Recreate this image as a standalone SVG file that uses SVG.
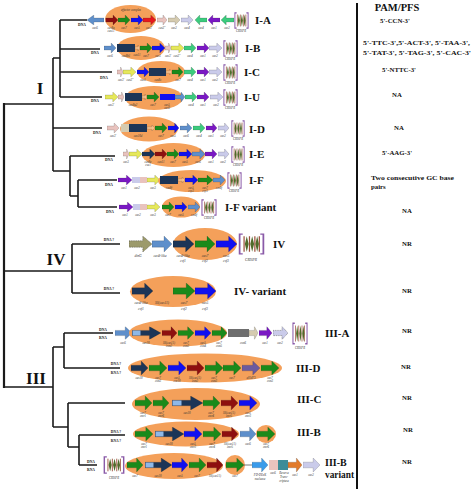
<svg xmlns="http://www.w3.org/2000/svg" xmlns:xlink="http://www.w3.org/1999/xlink" width="474" height="489" viewBox="0 0 474 489">
<style>
.t{font-family:"Liberation Serif","Times New Roman",serif;font-weight:bold;fill:#111}
.lab{font-size:11px}
.rom{font-size:17px}
.pam{font-size:6.8px}
.dna{font-size:3.6px;text-anchor:middle}
.gl{font-family:"Liberation Serif",serif;font-size:3px;font-style:italic;text-anchor:middle;fill:#333}
.br{fill:none;stroke:#1a1a1a;stroke-width:1.6}
.el{fill:#F4A05A}
.sb{fill:#5E8FCB}.nv{fill:#1C3557}.dr{fill:#8E0F0F}.gr{fill:#1A8A1A}.bl{fill:#1010F0}.rd{fill:#E5191E}
.pk{fill:#E9C3BE}.bg{fill:#D5CBB0}.lv{fill:#CACBEA}.mt{fill:#3BCB7D}.pu{fill:#7A18C4}.ye{fill:#E6E85A}
.ol{fill:#9C9A6B}.gy{fill:#6E6E6E}.or{fill:#E27A2A}.lb{fill:#3A9BEA}.tl{fill:#3E8C98}.sl{fill:#6C5A9E}.lo{fill:#F7C08A}
.lbb{fill:#8EB8E8}
</style>
<defs>
<symbol id="ar" viewBox="0 0 10 10" preserveAspectRatio="none"><path d="M0,3 H6 V0 L10,5 L6,10 V7 H0 Z" stroke="#222" stroke-opacity=".45" stroke-width=".4" vector-effect="non-scaling-stroke"/></symbol>
<symbol id="al" viewBox="0 0 10 10" preserveAspectRatio="none"><path d="M10,3 H4 V0 L0,5 L4,10 V7 H10 Z" stroke="#222" stroke-opacity=".45" stroke-width=".4" vector-effect="non-scaling-stroke"/></symbol>
<symbol id="ad" viewBox="0 0 10 10" preserveAspectRatio="none"><path d="M0,3 H6 V0 L10,5 L6,10 V7 H0 Z" stroke="#444" stroke-width=".5" stroke-dasharray="1 .8" vector-effect="non-scaling-stroke"/></symbol>
<symbol id="cr" viewBox="0 0 20 20" preserveAspectRatio="none">
<path d="M3.5,1 H1.2 V19 H3.5 M16.5,1 H18.8 V19 H16.5" fill="none" stroke="#8A5AA8" stroke-width="1.3"/>
<path d="M4.5,3 V17 M8.5,3 V17 M12.5,3 V17 M15.8,3 V17" stroke="#9B4E3A" stroke-width=".9"/>
<path d="M6.5,3 L7.9,10 L6.5,17 L5.1,10 Z M10.5,3 L11.9,10 L10.5,17 L9.1,10 Z M14.2,3 L15.5,10 L14.2,17 L12.9,10 Z" fill="#4F6B2A"/>
</symbol>
</defs>

<g id="tree" class="br">
<path d="M4,103 V388" stroke-width="2.2"/>
<path d="M4,104 H53 M4,271 H72 M4,387 H53"/>
<path d="M53,58 V171 M53,58 H60 M60,20 V97 M60,20 H87 M60,49 H100 M60,72 H112 M60,97 H102"/>
<path d="M53,128 H102 M53,171 H70 M70,156 V196 M70,156 H115 M70,196 H78 M78,180 V207 M78,180 H117 M78,207 H117"/>
<path d="M72,244 V293 M72,244 H120 M72,293 H120"/>
<path d="M53,347 V427 M53,347 H64 M64,333 V368 M64,333 H113 M64,368 H120 M53,427 H68 M68,403 V447 M68,403 H125 M68,447 H79 M79,435 V465 M79,435 H125 M79,465 H97"/>
</g>
<g id="clades" class="t rom">
<text x="40" y="94" text-anchor="middle">I</text>
<text x="56" y="265" text-anchor="middle">IV</text>
<text x="36" y="384" text-anchor="middle">III</text>
</g>

<g id="row-IA">
<text class="t dna" x="82" y="26">DNA</text>
<use href="#al" class="sb" x="87" y="15" width="17" height="10"/>
<ellipse class="el" cx="130.5" cy="19" rx="25.5" ry="14"/>
<text class="gl" x="131" y="11">effector complex</text>
<use href="#ar" class="dr" x="105.5" y="15" width="12.5" height="10"/>
<use href="#ar" class="gr" x="118" y="15" width="12" height="10"/>
<use href="#ar" class="bl" x="131" y="15" width="12" height="10"/>
<use href="#ar" class="rd" x="143" y="15" width="13" height="10"/>
<use href="#ar" class="pk" x="157" y="15" width="10" height="10"/>
<use href="#ar" class="bg" x="168" y="15" width="12" height="10"/>
<use href="#ar" class="lv" x="181" y="15" width="12" height="10"/>
<use href="#al" class="mt" x="195" y="15" width="12" height="10"/>
<use href="#al" class="pu" x="208" y="15" width="12" height="10"/>
<use href="#al" class="mt" x="221" y="15" width="13" height="10"/>
<use href="#cr" x="234" y="12" width="15" height="17"/>
<g class="gl"><text x="95" y="29">cas6</text><text x="111" y="29">cas8a</text><text x="111" y="32">cas11</text><text x="124" y="29">cas7</text><text x="137" y="29">cas5</text><text x="149" y="29">cas3'</text><text x="162" y="29">cas3''</text><text x="174" y="29">cas2</text><text x="187" y="29">cas4</text><text x="201" y="29">cas4</text><text x="214" y="29">cas1</text><text x="227" y="29">cas2</text><text x="241" y="32">CRISPR</text></g>
<text class="t lab" x="255" y="24">I-A</text>
</g>

<g id="row-IB">
<text class="t dna" x="95" y="54">DNA</text>
<use href="#ar" class="sb" x="104" y="43" width="12" height="10"/>
<ellipse class="el" cx="141" cy="48" rx="24" ry="12"/>
<rect class="nv" x="117" y="44" width="18" height="8"/>
<use href="#ar" class="lo" x="135" y="45" width="5" height="6"/>
<use href="#ar" class="gr" x="140" y="43" width="12" height="10"/>
<use href="#ar" class="bl" x="152" y="43" width="13" height="10"/>
<use href="#ar" class="pk" x="165" y="43" width="6" height="10"/>
<use href="#ar" class="ye" x="171" y="43" width="13" height="10"/>
<use href="#ar" class="mt" x="184" y="43" width="12" height="10"/>
<use href="#ar" class="pu" x="197" y="43" width="12" height="10"/>
<use href="#ar" class="lv" x="209" y="43" width="13" height="10"/>
<use href="#cr" x="223" y="40" width="15" height="17"/>
<g class="gl"><text x="110" y="57">cas6</text><text x="126" y="57">cas8b1</text><text x="137" y="56">cas11</text><text x="146" y="57">cas7</text><text x="158" y="57">cas5</text><text x="168" y="57">cas3'</text><text x="177" y="57">cas3''</text><text x="190" y="57">cas4</text><text x="203" y="57">cas1</text><text x="215" y="57">cas2</text><text x="230" y="60">CRISPR</text></g>
<text class="t lab" x="245" y="52">I-B</text>
</g>

<g id="row-IC">
<text class="t dna" x="104" y="79">DNA</text>
<ellipse class="el" cx="161" cy="72" rx="24" ry="11"/>
<use href="#ar" class="pk" x="117" y="67" width="6" height="10"/>
<use href="#ar" class="ye" x="123" y="67" width="13" height="10"/>
<use href="#ar" class="bl" x="137" y="67" width="12" height="10"/>
<rect class="nv" x="149" y="68" width="17" height="8"/>
<use href="#ar" class="lo" x="166" y="69" width="6" height="6"/>
<use href="#ar" class="gr" x="172" y="67" width="11" height="10"/>
<use href="#ar" class="mt" x="184" y="67" width="12" height="10"/>
<use href="#ar" class="pu" x="197" y="67" width="12" height="10"/>
<use href="#ar" class="lv" x="209" y="67" width="13" height="10"/>
<use href="#cr" x="223" y="64" width="15" height="17"/>
<g class="gl"><text x="121" y="81">cas3'</text><text x="130" y="81">cas3''</text><text x="143" y="81">cas5</text><text x="158" y="81">cas8c</text><text x="178" y="81">cas7</text><text x="190" y="81">cas4</text><text x="203" y="81">cas1</text><text x="215" y="81">cas2</text><text x="230" y="84">CRISPR</text></g>
<text class="t lab" x="244" y="76">I-C</text>
</g>

<g id="row-IU">
<text class="t dna" x="95" y="102">DNA</text>
<ellipse class="el" cx="154" cy="98" rx="29" ry="12"/>
<use href="#ar" class="ye" x="105" y="92" width="13" height="10"/>
<use href="#ar" class="pk" x="118" y="92" width="6" height="10"/>
<rect class="nv" x="125" y="93" width="17" height="8"/>
<use href="#ar" class="lo" x="142" y="94" width="5" height="6"/>
<use href="#ar" class="gr" x="147" y="92" width="12" height="10"/>
<rect class="bl" x="160" y="94" width="15" height="6"/>
<use href="#ar" class="sb" x="175" y="92" width="10" height="10"/>
<use href="#ar" class="mt" x="185" y="92" width="12" height="10"/>
<use href="#ar" class="pu" x="197" y="92" width="12" height="10"/>
<use href="#ar" class="lv" x="210" y="92" width="13" height="10"/>
<use href="#cr" x="223" y="89" width="15" height="17"/>
<g class="gl"><text x="111" y="106">cas3'</text><text x="133" y="106">cas8u2</text><text x="153" y="106">cas7</text><text x="167" y="106">cas5</text><text x="167" y="109">cas6</text><text x="191" y="106">cas4</text><text x="203" y="106">cas1</text><text x="216" y="106">cas2</text><text x="230" y="109">CRISPR</text></g>
<text class="t lab" x="244" y="101">I-U</text>
</g>

<g id="row-ID">
<text class="t dna" x="97" y="134">DNA</text>
<use href="#ar" class="pk" x="107" y="123" width="12" height="10"/>
<ellipse class="el" cx="149" cy="129" rx="29" ry="12.5"/>
<rect class="bg" x="121" y="124" width="8" height="8"/>
<rect class="nv" x="129" y="124" width="18" height="8"/>
<use href="#ar" class="lo" x="147" y="125" width="8" height="6"/>
<use href="#ar" class="gr" x="155" y="123" width="12" height="10"/>
<use href="#ar" class="bl" x="168" y="123" width="11" height="10"/>
<use href="#ar" class="sb" x="180" y="123" width="12" height="10"/>
<use href="#ar" class="mt" x="193" y="123" width="12" height="10"/>
<use href="#ar" class="pu" x="206" y="123" width="11" height="10"/>
<use href="#ar" class="lv" x="218" y="123" width="11" height="10"/>
<use href="#cr" x="231" y="120" width="14" height="17"/>
<g class="gl"><text x="113" y="137">cas3'</text><text x="138" y="137">cas10d</text><text x="161" y="137">cas7</text><text x="173" y="137">cas5</text><text x="186" y="137">cas6</text><text x="199" y="137">cas4</text><text x="211" y="137">cas1</text><text x="223" y="137">cas2</text><text x="238" y="140">CRISPR</text></g>
<text class="t lab" x="249" y="133">I-D</text>
</g>

<g id="row-IE">
<text class="t dna" x="109" y="161">DNA</text>
<use href="#ar" class="pk" x="123" y="149" width="6" height="10"/>
<use href="#ar" class="ye" x="129" y="149" width="13" height="10"/>
<ellipse class="el" cx="173.5" cy="155" rx="31.5" ry="12"/>
<use href="#ar" class="nv" x="142" y="149" width="13" height="10"/>
<use href="#ar" class="dr" x="155" y="149" width="12" height="10"/>
<use href="#ar" class="gr" x="167" y="149" width="12" height="10"/>
<use href="#ar" class="bl" x="179" y="149" width="13" height="10"/>
<use href="#ar" class="sb" x="192" y="149" width="13" height="10"/>
<use href="#ar" class="pu" x="205" y="149" width="12" height="10"/>
<use href="#ar" class="lv" x="218" y="149" width="11" height="10"/>
<use href="#cr" x="231" y="146" width="14" height="17"/>
<g class="gl"><text x="126" y="163">cas3</text><text x="148" y="163">cas8e</text><text x="148" y="166">cse1</text><text x="161" y="163">cas11</text><text x="173" y="163">cas7</text><text x="185" y="163">cas5</text><text x="198" y="163">cas6</text><text x="211" y="163">cas1</text><text x="223" y="163">cas2</text><text x="238" y="166">CRISPR</text></g>
<text class="t lab" x="249" y="158">I-E</text>
</g>

<g id="row-IF">
<text class="t dna" x="109" y="186">DNA</text>
<use href="#ar" class="pu" x="118" y="175" width="14" height="10"/>
<rect class="lv" x="132" y="177" width="8" height="6"/>
<rect class="pk" x="140" y="177" width="7" height="6"/>
<use href="#ar" class="ye" x="147" y="175" width="13" height="10"/>
<ellipse class="el" cx="192" cy="181" rx="34" ry="11"/>
<rect class="nv" x="160" y="176" width="18" height="8"/>
<use href="#ar" class="lo" x="178" y="177" width="7" height="6"/>
<use href="#ar" class="bl" x="185" y="175" width="13" height="10"/>
<use href="#ar" class="gr" x="198" y="175" width="15" height="10"/>
<use href="#ar" class="sb" x="213" y="175" width="12" height="10"/>
<use href="#cr" x="227" y="172" width="15" height="17"/>
<g class="gl"><text x="124" y="189">cas1</text><text x="137" y="189">cas2</text><text x="153" y="189">cas3</text><text x="169" y="189">cas8f</text><text x="191" y="189">cas5</text><text x="191" y="192">csy2</text><text x="205" y="189">cas7</text><text x="205" y="192">csy3</text><text x="219" y="189">cas6f</text><text x="234" y="192">CRISPR</text></g>
<text class="t lab" x="249" y="184">I-F</text>
</g>

<g id="row-IFv">
<text class="t dna" x="110" y="213">DNA</text>
<use href="#ar" class="pu" x="119" y="202" width="14" height="10"/>
<rect class="lv" x="133" y="204" width="7" height="6"/>
<rect class="pk" x="140" y="204" width="7" height="6"/>
<use href="#ar" class="ye" x="147" y="202" width="13" height="10"/>
<ellipse class="el" cx="181" cy="207" rx="19" ry="10.5"/>
<use href="#ar" class="gr" x="162" y="202" width="12" height="10"/>
<use href="#ar" class="bl" x="175" y="202" width="12" height="10"/>
<use href="#ar" class="sb" x="188" y="202" width="12" height="10"/>
<use href="#cr" x="201" y="199" width="16" height="17"/>
<g class="gl"><text x="125" y="216">cas1</text><text x="138" y="216">cas2</text><text x="153" y="216">cas3</text><text x="168" y="216">cas7</text><text x="181" y="216">cas5</text><text x="194" y="216">cas6f</text><text x="209" y="219">CRISPR</text></g>
<text class="t lab" x="225" y="211">I-F variant</text>
</g>

<g id="row-IV">
<text class="t dna" x="109" y="241">DNA ?</text>
<use href="#ad" class="ol" x="129" y="236" width="23" height="16"/>
<use href="#ar" class="sb" x="152" y="236" width="20" height="16"/>
<ellipse class="el" cx="205" cy="244" rx="32" ry="16"/>
<use href="#ar" class="nv" x="173" y="236" width="21" height="16"/>
<use href="#ar" class="gr" x="195" y="236" width="20" height="16"/>
<use href="#ar" class="bl" x="216" y="236" width="21" height="16"/>
<use href="#cr" x="238" y="233" width="27" height="22"/>
<g class="gl" style="font-size:3.6px"><text x="138" y="257">dinG</text><text x="160" y="257">cas8-like</text><text x="183" y="257">cas8-like</text><text x="183" y="262">csf1</text><text x="205" y="257">cas7</text><text x="205" y="262">csf2</text><text x="226" y="257">cas5</text><text x="226" y="262">csf3</text><text x="251" y="261">CRISPR</text></g>
<text class="t lab" x="273" y="248">IV</text>
</g>

<g id="row-IVv">
<text class="t dna" x="109" y="290">DNA ?</text>
<ellipse class="el" cx="173" cy="291.5" rx="43" ry="15.5"/>
<use href="#ar" class="nv" x="132" y="283" width="21" height="16"/>
<use href="#ar" class="gr" x="173" y="283" width="22" height="16"/>
<use href="#ar" class="bl" x="195" y="283" width="21" height="16"/>
<g class="gl" style="font-size:3.6px"><text x="141" y="304">cas8-like</text><text x="141" y="310">csf1</text><text x="162" y="304">SS(cas11)</text><text x="184" y="304">cas7</text><text x="184" y="310">csf2</text><text x="205" y="304">cas5</text><text x="205" y="310">csf3</text></g>
<text class="t lab" x="234" y="295">IV- variant</text>
</g>

<g id="row-IIIA">
<text class="t dna" x="103" y="331">DNA</text>
<text class="t dna" x="103" y="339">RNA</text>
<use href="#ar" class="sb" x="115" y="326.5" width="17" height="13"/>
<ellipse class="el" cx="178" cy="333" rx="49" ry="13.5"/>
<use href="#ar" class="nv" x="132" y="326.5" width="29" height="13"/>
<rect class="lbb" x="132.5" y="330.5" width="8" height="5"/>
<use href="#ar" class="dr" x="162" y="326.5" width="15" height="13"/>
<use href="#ar" class="gr" x="178" y="326.5" width="16" height="13"/>
<use href="#ar" class="bl" x="195" y="326.5" width="16" height="13"/>
<use href="#ar" class="gr" x="212" y="326.5" width="15" height="13"/>
<rect class="gy" x="228" y="329" width="21" height="8"/>
<use href="#ar" class="bg" x="249" y="326.5" width="9" height="13"/>
<use href="#ar" class="pu" x="259" y="326.5" width="13" height="13"/>
<use href="#ad" class="lv" x="273" y="326.5" width="15" height="13"/>
<use href="#cr" x="292" y="322" width="16" height="23"/>
<g class="gl"><text x="123" y="344">cas6</text><text x="146" y="344">cas10</text><text x="169" y="344">SS(cas11)</text><text x="169" y="347">csm2</text><text x="186" y="344">cas7</text><text x="186" y="347">csm3</text><text x="203" y="344">cas5</text><text x="203" y="347">csm4</text><text x="219" y="344">cas7</text><text x="219" y="347">csm5</text><text x="243" y="344">csm6</text><text x="265" y="344">cas1</text><text x="280" y="344">cas2</text><text x="300" y="349">CRISPR</text></g>
<text class="t lab" x="325" y="337">III-A</text>
</g>

<g id="row-IIID">
<text class="t dna" x="116" y="365">DNA ?</text>
<text class="t dna" x="116" y="374">RNA ?</text>
<ellipse class="el" cx="205" cy="368" rx="77" ry="14.5"/>
<use href="#ar" class="nv" x="131" y="361" width="17" height="14"/>
<use href="#ar" class="gr" x="149" y="361" width="18" height="14"/>
<use href="#ar" class="bl" x="168" y="361" width="18" height="14"/>
<use href="#ar" class="dr" x="187" y="361" width="17" height="14"/>
<use href="#ar" class="gr" x="205" y="361" width="18" height="14"/>
<use href="#ar" class="gr" x="223" y="361" width="18" height="14"/>
<use href="#ar" class="sl" x="242" y="361" width="18" height="14"/>
<use href="#ar" class="gr" x="261" y="361" width="18" height="14"/>
<g class="gl"><text x="139" y="379">cas10</text><text x="158" y="379">cas7</text><text x="158" y="382">csm3</text><text x="177" y="379">cas5</text><text x="177" y="382">csx10</text><text x="195" y="379">SS(cas11)</text><text x="195" y="382">csm2</text><text x="214" y="379">cas7</text><text x="214" y="382">csm3</text><text x="232" y="379">cas7</text><text x="251" y="379">all1473</text><text x="270" y="379">cas7</text><text x="270" y="382">csm3</text></g>
<text class="t lab" x="296" y="372">III-D</text>
</g>

<g id="row-IIIC">
<ellipse class="el" cx="196" cy="404" rx="64" ry="16"/>
<use href="#ar" class="gr" x="135" y="396" width="17" height="14"/>
<use href="#ar" class="gr" x="153" y="396" width="16" height="14"/>
<use href="#ar" class="nv" x="172" y="396" width="31" height="14"/>
<rect class="lbb" x="172.5" y="400.5" width="9" height="5"/>
<use href="#ar" class="gr" x="203" y="396" width="17" height="14"/>
<use href="#ar" class="dr" x="221" y="396" width="17" height="14"/>
<use href="#ar" class="bl" x="239" y="396" width="18" height="14"/>
<g class="gl"><text x="143" y="414">cas7</text><text x="143" y="417">cmr1</text><text x="161" y="414">cas7</text><text x="161" y="417">cmr6</text><text x="187" y="414">cas10</text><text x="211" y="414">cas7</text><text x="211" y="417">cmr4</text><text x="229" y="414">SS(cas11)</text><text x="229" y="417">cmr5</text><text x="248" y="414">cas5</text><text x="248" y="417">cmr3</text></g>
<text class="t lab" x="297" y="403">III-C</text>
</g>

<g id="row-IIIB">
<text class="t dna" x="116" y="433">DNA ?</text>
<text class="t dna" x="116" y="442">RNA ?</text>
<ellipse class="el" cx="186" cy="434" rx="53" ry="12.5"/>
<use href="#ar" class="gr" x="135" y="427" width="18" height="14"/>
<use href="#ar" class="nv" x="155" y="427" width="29" height="14"/>
<rect class="lbb" x="155.5" y="431.5" width="8" height="5"/>
<use href="#ar" class="bl" x="184" y="427" width="18" height="14"/>
<use href="#ar" class="gr" x="203" y="427" width="18" height="14"/>
<use href="#ar" class="dr" x="222" y="427" width="16" height="14"/>
<use href="#ar" class="sb" x="240" y="427" width="16" height="14"/>
<ellipse class="el" cx="266" cy="434" rx="10" ry="9"/>
<use href="#ar" class="gr" x="257" y="427" width="18" height="14"/>
<g class="gl"><text x="144" y="445">cas7</text><text x="144" y="448">cmr1</text><text x="169" y="445">cas10</text><text x="193" y="445">cas5</text><text x="193" y="448">cmr3</text><text x="212" y="445">cas7</text><text x="212" y="448">cmr4</text><text x="230" y="445">SS(cas11)</text><text x="230" y="448">cmr5</text><text x="248" y="445">cas6</text><text x="266" y="445">cas7</text><text x="266" y="448">cmr6</text></g>
<text class="t lab" x="297" y="436">III-B</text>
</g>

<g id="row-IIIBv">
<text class="t dna" x="91" y="463">DNA</text>
<text class="t dna" x="91" y="471">RNA</text>
<use href="#cr" x="103" y="456" width="22" height="18"/>
<text class="gl" x="114" y="479">CRISPR</text>
<ellipse class="el" cx="174" cy="466" rx="49" ry="13"/>
<use href="#ar" class="gr" x="127" y="458" width="16" height="14"/>
<use href="#ar" class="nv" x="145" y="458" width="27" height="14"/>
<rect class="lbb" x="145.5" y="462.5" width="8" height="5"/>
<use href="#ar" class="bl" x="172" y="458" width="16" height="14"/>
<use href="#ar" class="gr" x="189" y="458" width="17" height="14"/>
<use href="#ar" class="dr" x="207" y="458" width="16" height="14"/>
<ellipse class="el" cx="235" cy="465" rx="10" ry="10"/>
<use href="#ar" class="gr" x="226" y="458" width="18" height="14"/>
<path d="M244,465 H252" stroke="#555" stroke-width=".8"/>
<use href="#ar" class="lb" x="252" y="458" width="16" height="14"/>
<rect class="pk" x="269" y="460" width="9" height="10"/>
<rect class="tl" x="278" y="460" width="10" height="10"/>
<use href="#ar" class="or" x="288" y="458" width="14" height="14"/>
<use href="#ar" class="lv" x="303" y="458" width="17" height="14"/>
<g class="gl"><text x="135" y="477">cas7</text><text x="158" y="477">cas10</text><text x="180" y="477">cas5</text><text x="197" y="477">cas7</text><text x="215" y="477">SS(cas11)</text><text x="235" y="477">cas7</text><text x="260" y="476">PD-DExK</text><text x="260" y="480">nuclease</text><text x="273" y="474">cas6</text><text x="284" y="474">Reverse</text><text x="284" y="478">Trans-</text><text x="284" y="482">criptase</text><text x="295" y="476">cas1</text><text x="311" y="476">cas2</text></g>
<text class="t" x="325" y="466" font-size="10">III-B</text>
<text class="t" x="325" y="478" font-size="10" textLength="29" lengthAdjust="spacingAndGlyphs">variant</text>
</g>

<g id="pam">
<path d="M357,3 V489" stroke="#111" stroke-width="2"/>
<text class="t" x="397" y="11" font-size="10.5" text-anchor="middle">PAM/PFS</text>
<g class="t pam">
<text x="395" y="23" text-anchor="middle">5'-CCN-3'</text>
<text x="363" y="45" textLength="107" lengthAdjust="spacingAndGlyphs">5'-TTC-3',5'-ACT-3', 5'-TAA-3',</text>
<text x="363" y="55" textLength="108" lengthAdjust="spacingAndGlyphs">5'-TAT-3', 5'-TAG-3', 5'-CAC-3'</text>
<text x="399" y="72" text-anchor="middle">5'-NTTC-3'</text>
<text x="397" y="97" text-anchor="middle">NA</text>
<text x="399" y="130" text-anchor="middle">NA</text>
<text x="397" y="155" text-anchor="middle">5'-AAG-3'</text>
<text x="371" y="180" textLength="83" lengthAdjust="spacingAndGlyphs">Two consecutive GC base</text>
<text x="371" y="189">pairs</text>
<text x="407" y="213" text-anchor="middle">NA</text>
<text x="407" y="246" text-anchor="middle">NR</text>
<text x="407" y="293" text-anchor="middle">NR</text>
<text x="407" y="333" text-anchor="middle">NR</text>
<text x="406" y="369" text-anchor="middle">NR</text>
<text x="407" y="400" text-anchor="middle">NR</text>
<text x="408" y="432" text-anchor="middle">NR</text>
<text x="407" y="464" text-anchor="middle">NR</text>
</g>
</g>
</svg>
